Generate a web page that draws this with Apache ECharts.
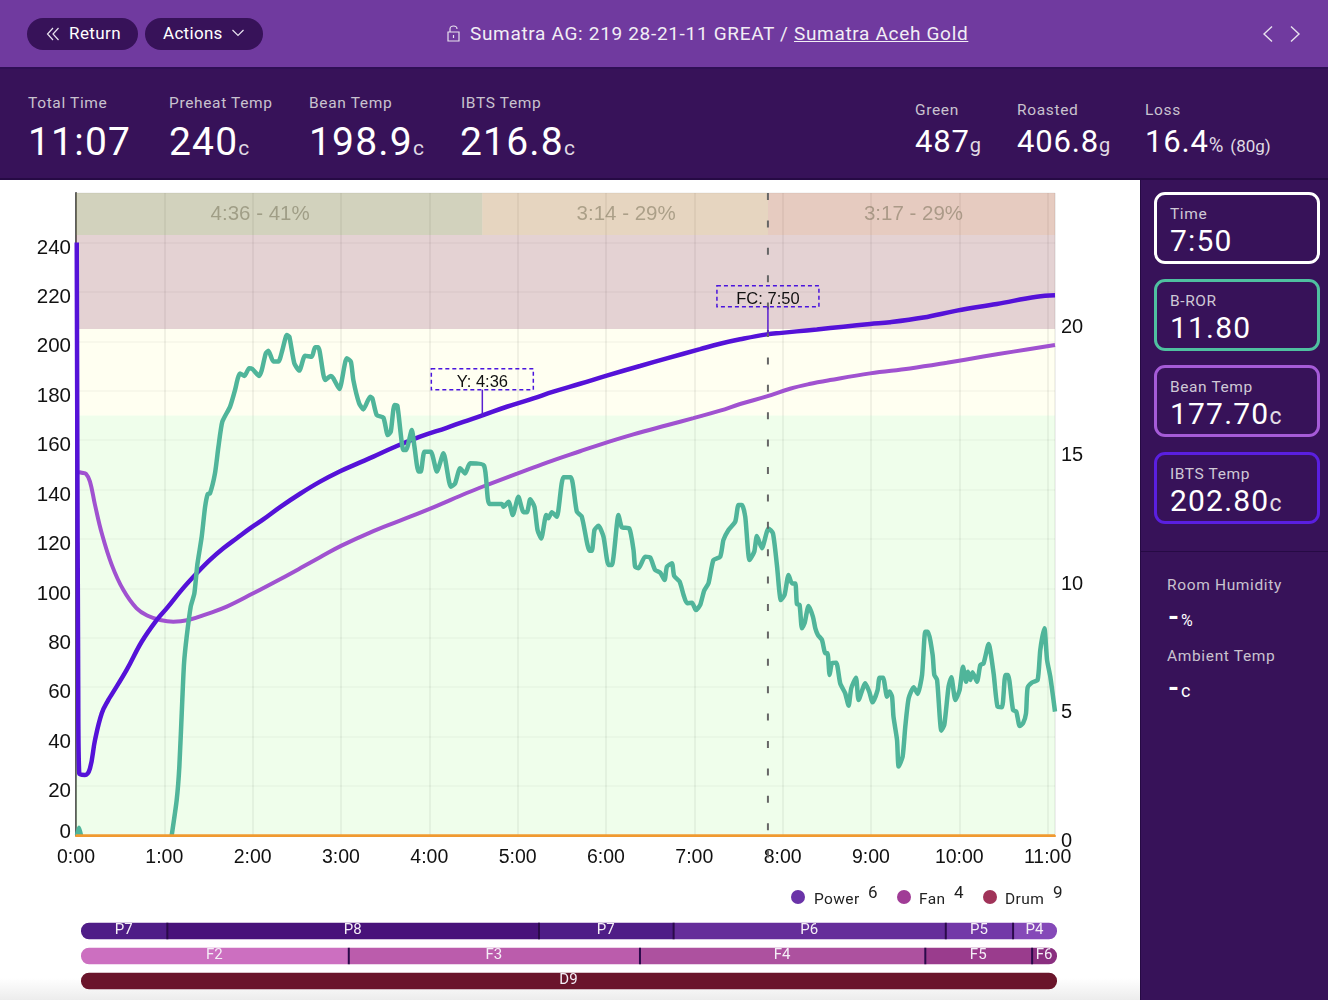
<!DOCTYPE html>
<html>
<head>
<meta charset="utf-8">
<title>Sumatra AG: 219</title>
<script src="https://cdn.jsdelivr.net/npm/echarts@6/dist/echarts.min.js"></script>
<style>
  html, body { margin: 0; padding: 0; background: #fff; }
  body { position: relative; width: 1328px; height: 1000px; overflow: hidden; font-family: Roboto, sans-serif; color: #fff; }
  #chart { position: absolute; left: 0; top: 0; width: 1140px; height: 1000px; }
  #fade { position: absolute; left: 0; top: 978px; width: 1140px; height: 22px; background: linear-gradient(rgba(225,225,225,0), #ececec); }
  #topbar { position: absolute; left: 0; top: 0; width: 1328px; height: 67px; background: #703a9f; border-bottom: 2px solid #2f0f55; }
  #stats { position: absolute; left: 0; top: 69px; width: 1328px; height: 109px; background: #371259; border-bottom: 2px solid #260a44; }
  #side { position: absolute; left: 1140px; top: 180px; width: 188px; height: 820px; background: #371259; box-shadow: inset 1px 0 0 #260a44; }
  #sep { position: absolute; left: 1140px; top: 551px; width: 188px; height: 1px; background: #260a44; }
  .abs { position: absolute; white-space: nowrap; line-height: 1; }
  .pill { position: absolute; top: 18px; height: 32px; border-radius: 16px; background: #371259; }
  .lab { font-size: 15.5px; color: #c9c2cf; letter-spacing: .65px; }
  .big { font-size: 39px; letter-spacing: 1.2px; }
  .big small { font-size: 21px; letter-spacing: 0; color: #e0dbe5; }
  .mid { font-size: 31px; letter-spacing: .8px; }
  .mid small { font-size: 20px; letter-spacing: 0; color: #e0dbe5; }
  .card { position: absolute; left: 1154px; width: 160px; height: 66px; border: 3px solid #fff; border-radius: 11px; }
  .card .t { position: absolute; left: 13px; top: 12px; font-size: 15.5px; line-height: 1; color: #cfc8d6; letter-spacing: .6px; white-space: nowrap; }
  .card .v { position: absolute; left: 13px; top: 31px; font-size: 30px; line-height: 1; letter-spacing: 1.2px; white-space: nowrap; }
  .card .v small { font-size: 23px; letter-spacing: 0; color: #e0dbe5; }
  .dot { position: absolute; top: 890px; width: 14px; height: 14px; border-radius: 50%; }
  .leg { color: #222; font-size: 15.5px; letter-spacing: .4px; }
  .sup { color: #222; font-size: 17px; }
  svg { position: absolute; fill: none; }
</style>
</head>
<body>
<div id="fade"></div>
<div id="chart"></div>

<div id="topbar"></div>
<div class="pill" style="left:27px;width:111px"></div>
<div class="pill" style="left:145px;width:118px"></div>
<svg style="left:46px;top:26px" width="14" height="16" stroke="#e8e2ee" stroke-width="1.2"><path d="M7 2 L1.5 8 L7 14 M12.5 2 L7 8 L12.5 14"/></svg>
<span class="abs" style="left:69px;top:25px;font-size:17px;letter-spacing:.4px">Return</span>
<span class="abs" style="left:163px;top:25px;font-size:17px;letter-spacing:.3px">Actions</span>
<svg style="left:231px;top:28px" width="14" height="10" stroke="#e8e2ee" stroke-width="1.2"><path d="M1.5 2 L7 7.5 L12.5 2"/></svg>
<svg style="left:446px;top:24px" width="16" height="19" stroke="#e8e2ee" stroke-width="1.2"><path d="M2 8 H13 V17 H2 Z M4 8 V5 C4 1 11 1 11 5 M7.5 11 V14"/></svg>
<span class="abs" style="left:470px;top:24px;font-size:19px;letter-spacing:.68px;color:#f2eef5">Sumatra AG: 219 28-21-11 GREAT / <u>Sumatra Aceh Gold</u></span>
<svg style="left:1261px;top:25px" width="42" height="18" stroke="#e8e2ee" stroke-width="1.4"><path d="M11 1.5 L3 9 L11 16.5 M30 1.5 L38 9 L30 16.5"/></svg>

<div id="stats"></div>
<span class="abs lab" style="left:28px;top:96px">Total Time</span>
<span class="abs lab" style="left:169px;top:96px">Preheat Temp</span>
<span class="abs lab" style="left:309px;top:96px">Bean Temp</span>
<span class="abs lab" style="left:461px;top:96px">IBTS Temp</span>
<span class="abs big" style="left:28px;top:123px">11:07</span>
<span class="abs big" style="left:169px;top:123px">240<small>c</small></span>
<span class="abs big" style="left:309px;top:123px">198.9<small>c</small></span>
<span class="abs big" style="left:460px;top:123px">216.8<small>c</small></span>
<span class="abs lab" style="left:915px;top:103px">Green</span>
<span class="abs lab" style="left:1017px;top:103px">Roasted</span>
<span class="abs lab" style="left:1145px;top:103px">Loss</span>
<span class="abs mid" style="left:915px;top:126px">487<small>g</small></span>
<span class="abs mid" style="left:1017px;top:126px">406.8<small>g</small></span>
<span class="abs mid" style="left:1145px;top:126px">16.4<small>%</small><small style="margin-left:7px;font-size:17px">(80g)</small></span>

<div id="side"></div>
<div id="sep"></div>
<div class="card" style="top:192px;border-color:#fff"><span class="t">Time</span><span class="v">7:50</span></div>
<div class="card" style="top:279px;border-color:#4fc0a0"><span class="t">B-ROR</span><span class="v">11.80</span></div>
<div class="card" style="top:365px;border-color:#a65bd8"><span class="t">Bean Temp</span><span class="v">177.70<small>c</small></span></div>
<div class="card" style="top:452px;border-color:#5a1fe0"><span class="t">IBTS Temp</span><span class="v">202.80<small>c</small></span></div>
<span class="abs lab" style="left:1167px;top:578px">Room Humidity</span>
<span class="abs" style="left:1168px;top:603px;font-size:28px;font-weight:700">-<small style="font-size:16px;font-weight:400;margin-left:2px">%</small></span>
<span class="abs lab" style="left:1167px;top:649px">Ambient Temp</span>
<span class="abs" style="left:1168px;top:674px;font-size:28px;font-weight:700">-<small style="font-size:18px;font-weight:400;margin-left:2px">c</small></span>

<div class="dot" style="left:791px;background:#6a33a8"></div>
<span class="abs leg" style="left:814px;top:892px">Power</span><span class="abs sup" style="left:868px;top:884px">6</span>
<div class="dot" style="left:897px;background:#a03c96"></div>
<span class="abs leg" style="left:919px;top:892px">Fan</span><span class="abs sup" style="left:954px;top:884px">4</span>
<div class="dot" style="left:983px;background:#a03359"></div>
<span class="abs leg" style="left:1005px;top:892px">Drum</span><span class="abs sup" style="left:1053px;top:884px">9</span>

<script>
// [seconds, temp c]
const ibtsTemp = [
  [0.5,240],[1.5,60],[2.2,25],[6.1,24.5],[9.5,27.2],[12.9,38.6],[17.5,49.5],[21.9,54.8],[24.3,57.1],[34.4,67],[44.6,78.4],
  [54.8,87.2],[61.6,91.9],[71.8,99.4],[82,106.1],[91,111.5],[100.1,116.2],[109.2,120.3],[118.2,124.3],[127.2,127.9],
  [138.6,132.9],[152.2,138.3],[165.8,143.2],[179.4,147.4],[190.7,150.4],[202,153.3],[215.6,157],[233.7,161.4],
  [251.8,165],[263.1,167.4],[275.6,169.9],[292.6,173.5],[310.7,176.9],[324.3,179.6],[342.4,182.8],[360.5,186.1],
  [383.1,190],[401.3,193.1],[423.9,196.8],[437.5,199],[451.1,200.8],[469.2,202.8],[479.4,203.4],[489.6,204],[503.2,204.8],
  [521.3,205.9],[539.4,207],[553,207.7],[575.6,209.6],[598.3,212.4],[625.5,215.1],[652.7,218],[665,218.6]
];
// [seconds, temp c]
const beanTemp = [
  [2,147.1],[3.9,146.8],[6.8,146.3],[9.5,143.2],[12.9,133.8],[17.5,122.3],[24.3,109.5],[32.1,99.4],[41.2,91.9],[49.1,88.8],
  [57.1,87.2],[66.1,86.5],[76.3,87.2],[88.8,89.6],[102.4,92.6],[120.4,98],[138.6,103.7],[152.2,108.1],[165.8,112.6],
  [180,117.2],[199.7,122.6],[220.1,127.4],[242.7,132.8],[265.4,138.6],[279,141.8],[299.6,146.4],[319.8,150.9],[342.4,155.5],
  [356,158.2],[378.6,162.3],[401.3,166],[419.4,168.9],[437.5,171.9],[451.1,174.6],[469.2,177.7],[485,180.8],[498,182.7],[512.2,184.3],
  [539.4,187],[566.5,189],[591.5,191.3],[616.3,193.8],[636.7,195.8],[665,198.5]
];
// [seconds, rate of rise], null breaks the line while it sits on zero
const beanRor = [
  [0.7,0],[2,0.3],[3.4,0],[34,null],[65,0],[68.4,1.38],[70.2,2.68],[72.2,5.27],[73.4,6.71],[75.2,7.74],[77.9,8.9],[80.4,9.42],[82.4,10.53],
  [85.4,11.63],[87.7,12.79],[89.5,13.29],[91,13.31],[94.4,14.09],[96.7,15.1],[99.4,16.1],[104.6,16.68],[108,17.33],[109.9,17.79],
  [111.4,17.98],[114.4,17.88],[117.6,18.18],[119.8,18.15],[124.4,17.88],[126.2,18.11],[128.9,18.76],[130.7,18.86],[134.1,18.44],
  [137.5,18.44],[140.2,18.89],[143.2,19.47],[144.9,19.41],[148.3,18.37],[151.7,18.09],[155.6,18.67],[160.2,18.63],[162.4,19],
  [164.6,19],[169.2,17.72],[173.1,17.88],[174.8,17.79],[178.9,17.37],[183.9,18.57],[186.7,18.44],[188.4,17.72],[192.3,16.82],
  [195.2,16.58],[199.8,17.07],[201.3,17.01],[204.3,16.36],[208.8,16.26],[211.8,15.58],[213.8,15.71],[216.3,16.75],[218.3,16.72],
  [222.4,15],[224.2,15],[228.1,15.78],[229.9,15.13],[232.6,14.16],[234.2,14.16],[236.7,14.93],[241,14.93],[245.1,14.16],[249.6,14.87],
  [254.6,13.57],[257.5,13.7],[260.9,14.29],[264.3,14.09],[267.7,14.48],[277.2,14.39],[280.8,12.9],[289.3,12.9],[290.4,12.79],
  [293.8,12.99],[296.7,12.47],[300.5,13.18],[304,12.58],[306.3,12.58],[308.5,13.08],[311.4,12.79],[313.5,11.89],[316,11.56],
  [319.4,12.47],[320.9,12.34],[323.2,12.58],[326.6,12.4],[331.1,13.94],[336.1,13.94],[340.2,12.6],[343.6,12.4],[348.8,11.08],
  [350.4,11.08],[352.2,11.89],[354.9,12.05],[358.3,11.63],[361.7,10.53],[364,10.53],[368.5,12.47],[370.8,11.99],[375.8,11.95],
  [378.7,11.11],[379.8,10.46],[382.1,10.4],[386.6,10.85],[390,10.82],[393.4,10.33],[396.8,10.23],[399.8,9.94],[401.4,10.46],
  [404.8,10.59],[406.3,10.1],[410,9.88],[412.7,9.36],[415,9.04],[418.4,9.06],[421.1,8.77],[424,8.97],[426.7,9.53],[429.6,9.81],
  [433,10.72],[437.6,10.85],[439.8,11.5],[443.2,11.89],[447.8,12.21],[450,12.86],[452.4,12.86],[454.6,12.4],[457.5,10.72],
  [460.7,11.04],[462.5,11.65],[465.9,11.18],[470.4,11.95],[473.4,11.76],[476.1,10.53],[478.8,9.16],[481.3,9.36],[484,10.14],
  [486.3,9.81],[488.6,9.81],[489.7,9.01],[491.5,8.97],[493.1,8.06],[494.9,8.26],[497.6,8.93],[500.6,8.51],[502.2,8.06],[504,7.8],
  [506.7,7.61],[509,7.09],[510.5,7.09],[511.9,6.25],[513.5,6.7],[516.4,6.72],[519.1,5.92],[522.5,5.53],[524.8,5.05],[526.6,5.73],
  [529.8,6.14],[531.6,5.27],[536.1,5.92],[538.8,5.6],[541.1,5.18],[544.5,5.66],[545.8,6.14],[548.2,6.14],[550.9,5.4],[552.6,5.6],
  [554.3,5.4],[555.3,4.62],[557.7,3.72],[558.8,2.68],[561.5,3.07],[563.3,4.23],[565.6,5.34],[569,5.77],[571.7,5.51],[574.7,6.25],
  [576.9,7.93],[578.7,7.93],[581.9,7.02],[583,6.25],[584.9,6.05],[587.8,4.08],[589.8,4.3],[592.7,5.79],[594.6,6.16],[597.3,5.27],
  [600.2,5.66],[602.5,6.57],[604.6,5.98],[605.9,6.37],[607.5,6.05],[609,6.35],[612,5.98],[614.3,6.63],[616.5,6.7],[619.9,7.45],
  [623.3,6.31],[626,5.01],[629,4.99],[631.3,6.25],[633.1,6.25],[636.5,4.88],[638.7,4.82],[641,4.26],[643.3,4.37],[645.3,4.75],
  [646.4,5.75],[649.4,5.95],[653.2,6.05],[655,7.22],[657.8,8.06],[659.6,6.83],[661.8,6.18],[665,4.82]
];
// flat orange trace along the floor of the chart
const baseTrace = [[0,0],[665,0]];

const totalSeconds = 665;
const tempMax = 260;
const rorMax = 25;

// roast phases: label, start, end (seconds)
const phaseLabels = ['4:36 - 41%', '3:14 - 29%', '3:17 - 29%'];
const phaseEdges = [0, 276, 470, 665];
const phaseColors = ['rgba(143,143,90,.4)', 'rgba(192,150,97,.4)', 'rgba(192,125,97,.4)'];
const phaseLabelShift = [-19, 1, 2];

// temperature zones
const zoneEdges = [0, 170, 205, 243];
const zoneColors = ['rgba(190,250,170,.24)', 'rgba(255,255,160,.15)', 'rgba(165,105,108,.3)'];

// events on the ibts curve
const eventLabels = ['Y: 4:36', 'FC: 7:50'];
const eventTimes = [276, 470];
const eventTemps = [169.5, 203];

// control steps: label + end second
const powerLabels = ['P7', 'P8', 'P7', 'P6', 'P5', 'P4'];
const powerEnds = [59, 313, 405, 591, 637, 667];
const powerColors = ['#4f1d87', '#48127a', '#4f1d87', '#652d9a', '#7338a8', '#8549b8'];
const fanLabels = ['F2', 'F3', 'F4', 'F5', 'F6'];
const fanEnds = [183, 382, 577, 650, 667];
const fanColors = ['#cc6fc0', '#bb5cac', '#ad519f', '#9a3c8d', '#8a2f80'];
const drumLabels = ['D9'];
const drumEnds = [667];
const drumColors = ['#6a152b'];

const axisFont = 'Liberation Sans';
const fmtTime = v => Math.floor(v / 60) + ':' + String(v % 60).padStart(2, '0');

function stepRows(row, labels, ends, colors) {
  return labels.map((name, i) => ({
    name,
    value: [row, i ? ends[i - 1] : 0, ends[i]],
    color: colors[i],
    first: i === 0,
    last: i === labels.length - 1
  }));
}
const steps = [
  ...stepRows(0, powerLabels, powerEnds, powerColors),
  ...stepRows(1, fanLabels, fanEnds, fanColors),
  ...stepRows(2, drumLabels, drumEnds, drumColors)
];

function renderStep(params, api) {
  const s = steps[params.dataIndex];
  const a = api.coord([s.value[1], s.value[0]]);
  const b = api.coord([s.value[2], s.value[0]]);
  const h = 16.5, r = 8;
  const kids = [
    { type: 'rect', shape: { x: a[0], y: a[1] - h / 2, width: b[0] - a[0], height: h,
        r: [s.first ? r : 0, s.last ? r : 0, s.last ? r : 0, s.first ? r : 0] }, style: { fill: s.color } },
    { type: 'text', z2: 5, style: { text: s.name, x: (a[0] + b[0]) / 2 - 0.5, y: a[1] - 0.5, align: 'center', verticalAlign: 'middle',
        fill: '#f4eef6', font: '15px Roboto' } }
  ];
  if (!s.first) {
    kids.push({ type: 'line', z2: 4, shape: { x1: a[0], y1: a[1] - h / 2, x2: a[0], y2: a[1] + h / 2 },
      style: { stroke: '#2a0a4a', lineWidth: 2 } });
  }
  return { type: 'group', children: kids };
}

function renderEvent(params, api) {
  const p = api.coord([api.value(0), api.value(1)]);
  const boxW = 102, boxH = 21, stem = 27;
  const boxY = p[1] - stem - boxH;
  return { type: 'group', children: [
    { type: 'line', shape: { x1: p[0], y1: p[1], x2: p[0], y2: p[1] - stem }, style: { stroke: '#5a1fd0', lineWidth: 1.5 } },
    { type: 'rect', shape: { x: p[0] - boxW / 2, y: boxY, width: boxW, height: boxH },
      style: { fill: 'transparent', stroke: '#4a15dd', lineWidth: 1.5, lineDash: [4, 3] } },
    { type: 'text', style: { text: eventLabels[params.dataIndex], x: p[0], y: boxY + boxH / 2 + 3, align: 'center', verticalAlign: 'middle',
        fill: '#111', font: '16.5px "' + axisFont + '"' } }
  ] };
}

// dashed first-crack marker, runs past the axis into the tick labels
function renderCrack(params, api) {
  const top = api.coord([api.value(0), tempMax]);
  const bottom = api.coord([api.value(0), 0]);
  return { type: 'line', shape: { x1: top[0], y1: top[1], x2: top[0], y2: bottom[1] + 27 },
    style: { stroke: '#666', lineWidth: 2, lineDash: [7, 20.4] } };
}

const bandData = [];
zoneColors.forEach((color, i) => {
  bandData.push([{ xAxis: 0, yAxis: zoneEdges[i], itemStyle: { color } }, { xAxis: totalSeconds, yAxis: zoneEdges[i + 1] }]);
});
phaseLabels.forEach((name, i) => {
  bandData.push([{ name, xAxis: phaseEdges[i], yAxis: 243, itemStyle: { color: phaseColors[i] },
    label: { show: true, position: 'inside', offset: [phaseLabelShift[i], 0], color: 'rgba(90,85,60,.42)', fontSize: 20.5, fontFamily: axisFont } },
    { xAxis: phaseEdges[i + 1], yAxis: tempMax }]);
});

const chart = echarts.init(document.getElementById('chart'));
chart.setOption({
  animation: false,
  grid: [
    { left: 76, top: 193, width: 979, height: 642.5 },
    { left: 81, top: 918.5, width: 976, height: 75 }
  ],
  xAxis: [
    {
      type: 'value', min: 0, max: totalSeconds, interval: 60,
      axisLine: { lineStyle: { color: '#f09a30', width: 2 } },
      axisTick: { show: false },
      axisLabel: { color: '#111', fontSize: 19.5, fontFamily: axisFont, margin: 12, showMaxLabel: false, formatter: fmtTime },
      splitLine: { lineStyle: { color: 'rgba(0,0,0,.065)', width: 2 } }
    },
    { gridIndex: 1, type: 'value', min: 0, max: 667, show: false }
  ],
  yAxis: [
    {
      type: 'value', min: 0, max: tempMax, interval: 20,
      axisLine: { show: true, onZero: false, lineStyle: { color: '#777', width: 2 } },
      axisTick: { show: false },
      axisLabel: {
        color: '#111', fontSize: 20.5, fontFamily: axisFont, margin: 5, showMaxLabel: false, padding: [11, 0, 0, 0],
        formatter: v => (v === 0 ? '{z|0}' : String(v)),
        rich: { z: { fontSize: 20.5, fontFamily: axisFont, color: '#111', padding: [0, 0, 17, 0] } }
      },
      splitLine: { lineStyle: { color: 'rgba(0,0,0,.05)', width: 1.5 } }
    },
    {
      type: 'value', min: 0, max: rorMax, interval: 5, position: 'right',
      axisLine: { show: true, lineStyle: { color: '#555', width: 1.5 } },
      axisTick: { show: false },
      axisLabel: {
        color: '#111', fontSize: 20, fontFamily: axisFont, margin: 6, showMaxLabel: false, padding: [11, 0, 0, 0],
        formatter: v => '{n|' + v + '}',
        rich: { n: { fontSize: 20, fontFamily: axisFont, color: '#111' } }
      },
      splitLine: { show: false }
    },
    { gridIndex: 1, type: 'category', inverse: true, data: ['Power', 'Fan', 'Drum'], show: false }
  ],
  series: [
    {
      name: 'Bean Temp', type: 'line', data: beanTemp, showSymbol: false, smooth: 0.4, z: 3,
      lineStyle: { color: '#a052d0', width: 4 }, emphasis: { disabled: true },
      markArea: { silent: true, data: bandData }
    },
    {
      name: 'IBTS Temp', type: 'line', data: ibtsTemp, showSymbol: false, smooth: 0.4, z: 4,
      lineStyle: { color: '#5512d8', width: 4.5 }, emphasis: { disabled: true }
    },
    {
      name: 'B-ROR', type: 'line', yAxisIndex: 1, data: beanRor, showSymbol: false, smooth: 0.2, z: 5,
      lineStyle: { color: '#50b59a', width: 4.5 }, emphasis: { disabled: true }
    },
    {
      name: 'Base', type: 'line', data: baseTrace, showSymbol: false, z: 6,
      lineStyle: { color: '#f09a30', width: 2.5 }, emphasis: { disabled: true }
    },
    {
      type: 'custom', silent: true, z: 7, clip: false, renderItem: renderCrack,
      encode: { x: 0, y: 1 }, data: [[eventTimes[1], 0]]
    },
    {
      type: 'custom', silent: true, z: 8, clip: false, renderItem: renderEvent,
      encode: { x: 0, y: 1 }, data: eventTimes.map((t, i) => [t, eventTemps[i]])
    },
    {
      type: 'custom', silent: true, xAxisIndex: 1, yAxisIndex: 2, renderItem: renderStep,
      encode: { x: [1, 2], y: 0 }, data: steps.map(s => s.value)
    }
  ]
});
</script>
</body>
</html>
